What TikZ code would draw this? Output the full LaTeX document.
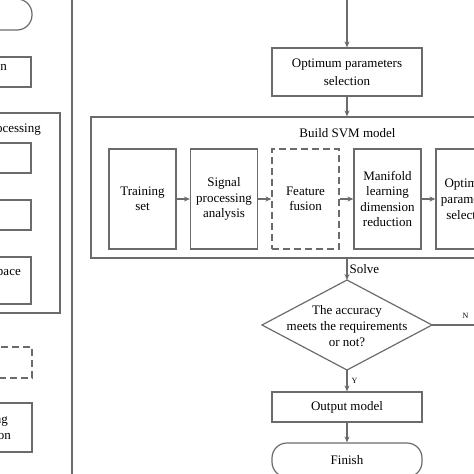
\documentclass[tikz,border=0pt]{standalone}
\usepackage{fontspec}
\setmainfont{Liberation Serif}
\usetikzlibrary{arrows.meta}
\definecolor{linegray}{gray}{0.42}
\begin{document}
\begin{tikzpicture}[x=1pt,y=-1pt,
  every node/.style={text=black},
  boxstyle/.style={draw=linegray, line width=1.2pt, rectangle, inner sep=0pt, align=center,
    font=\fontsize{13}{15.5}\selectfont},
  dashbox/.style={boxstyle, dash pattern=on 7pt off 4pt},
  termstyle/.style={boxstyle, rounded corners=15pt},
  txt/.style={inner sep=0pt, font=\fontsize{13}{15.5}\selectfont},
  smalltxt/.style={inner sep=0pt, font=\fontsize{8}{9}\selectfont},
  conn/.style={draw=linegray, line width=1.2pt},
  arr/.style={conn, -{Stealth[length=6pt,width=5pt]}}
]
\useasboundingbox (0,0) rectangle (474,474);
\clip (0,0) rectangle (474,474);

% ---------- left part (cropped) ----------
\node[termstyle, minimum width=132pt, minimum height=31pt] (lstart) at (-34,14.5) {};
\node[boxstyle, minimum width=131pt, minimum height=30pt] (lbox1) at (-34.5,72) {};
\node[txt, anchor=base east] (lbox1t) at (7,70) {Data acquisition};
\node[boxstyle, minimum width=210pt, minimum height=200pt] (lbig) at (-45,213) {};
\node[txt, anchor=base east] (lbigt) at (41,132) {Signal processing};
\node[boxstyle, minimum width=131pt, minimum height=30pt] (lb1) at (-34.5,158) {};
\node[boxstyle, minimum width=131pt, minimum height=30pt] (lb2) at (-34.5,215) {};
\node[boxstyle, minimum width=131pt, minimum height=47pt] (lb3) at (-34.5,280.5) {};
\node[txt, anchor=base east] (lb3t) at (21,275) {Feature space};
\node[dashbox, minimum width=132pt, minimum height=31pt] (ldash) at (-34,362.5) {};
\node[boxstyle, minimum width=132pt, minimum height=49pt] (lb4) at (-34,427.5) {};
\node[txt, anchor=base east] (lb4a) at (8,423) {Manifold learning};
\node[txt, anchor=base east] (lb4b) at (11,439) {dimension reduction};
\coordinate (vtop) at (72,-5);
\coordinate (vbot) at (72,480);
\draw[conn] (vtop) -- (vbot);

% ---------- right part ----------
\coordinate (topin) at (347,-5);
\node[boxstyle, minimum width=150pt, minimum height=48pt, font=\fontsize{13}{18}\selectfont] (opt) at (347,72) {Optimum parameters\\selection};
\node[boxstyle, minimum width=429pt, minimum height=141pt] (svm) at (305.5,187.5) {};
\node[txt, anchor=base] (svmt) at (347.5,137) {Build SVM model};
\node[boxstyle, minimum width=67pt, minimum height=100pt] (ts) at (142.5,199) {Training\\set};
\node[boxstyle, minimum width=67pt, minimum height=100pt] (spa) at (224,199) {Signal\\processing\\analysis};
\node[dashbox, minimum width=67pt, minimum height=100pt] (ff) at (305.5,199) {Feature\\fusion};
\node[boxstyle, minimum width=67pt, minimum height=100pt] (ml) at (387.5,199) {Manifold\\learning\\dimension\\reduction};
\node[boxstyle, minimum width=67pt, minimum height=100pt, font=\fontsize{13}{16}\selectfont] (ops) at (469.5,199) {Optimum\\parameters\\selection};

\coordinate (dt) at (347,280);
\coordinate (dr) at (432,325);
\coordinate (db) at (347,370);
\coordinate (dl) at (262,325);
\draw[conn] (dt) -- (dr) -- (db) -- (dl) -- cycle;
\node[txt, align=center, font=\fontsize{13}{16}\selectfont] (dtext) at (347,326) {The accuracy\\meets the requirements\\or not?};

\node[boxstyle, minimum width=150pt, minimum height=30pt] (out) at (347,407) {Output model};
\node[termstyle, minimum width=150pt, minimum height=34pt] (fin) at (347,460) {Finish};
\coordinate (nout) at (480,325);

\draw[arr] (topin) -- (opt.north);
\draw[arr] (opt.south) -- (svm.north -| opt.south);
\draw[arr] (ts.east) -- (spa.west);
\draw[arr] (spa.east) -- (ff.west);
\draw[arr] (ff.east) -- (ml.west);
\draw[arr] (ml.east) -- (ops.west);
\draw[arr] (svm.south -| dt) -- node[txt, anchor=base west, pos=0.5, xshift=2pt, yshift=-4pt] (solve) {Solve} (dt);
\draw[arr] (db) -- node[smalltxt, anchor=west, xshift=4pt] (ylab) {Y} (out.north);
\draw[arr] (out.south) -- (fin.north);
\draw[conn] (dr) -- (nout);
\node[smalltxt] (nlab) at (465.5,315.5) {N};
\end{tikzpicture}
\end{document}
